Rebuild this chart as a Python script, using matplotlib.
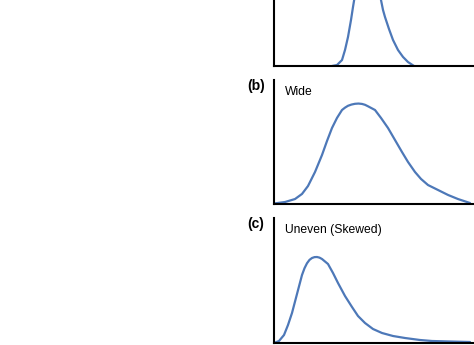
import matplotlib
matplotlib.use("Agg")
import matplotlib.pyplot as plt

plt.rcParams['font.family'] = ['Liberation Sans', 'DejaVu Sans']

# (a) narrow peak - top is cut off by the image border
narrow_x = [29, 31.5, 34, 35.5, 37, 38.5, 39.5, 40.5, 42, 44, 47, 50, 52, 53.5,
            54.5, 55.5, 57.5, 59.5, 62, 64.5, 67, 70]
narrow_y = [0, 0.008, 0.048, 0.129, 0.234, 0.371, 0.476, 0.573, 0.734, 0.855,
            0.903, 0.855, 0.694, 0.532, 0.452, 0.395, 0.298, 0.21, 0.129, 0.073,
            0.032, 0]

# (b) wide
wide_x = [0, 5.5, 10.5, 14, 17, 20.5, 24, 26.5, 29, 31.5, 34, 35.5, 37, 38.75,
          40.5, 42.25, 44, 45.5, 47, 50.5, 53.5, 57, 60.5, 64, 67, 70.5, 73.5,
          77, 82, 87, 92, 98]
wide_y = [0, 0.012, 0.036, 0.077, 0.141, 0.254, 0.391, 0.504, 0.609, 0.69,
          0.754, 0.773, 0.788, 0.798, 0.804, 0.806, 0.803, 0.796, 0.784, 0.754,
          0.69, 0.609, 0.512, 0.415, 0.335, 0.254, 0.198, 0.149, 0.109, 0.069,
          0.036, 0.004]

# (c) uneven / skewed
skew_x = [0, 2.5, 5, 7, 9, 11.5, 14, 15.25, 16.5, 17.75, 19, 20.25, 21.5, 22.75,
          24, 27, 29.5, 32, 35.5, 39, 42, 45.5, 49.5, 54, 59.5, 65.5, 73, 79,
          88, 98]
skew_y = [0, 0.016, 0.064, 0.144, 0.24, 0.392, 0.544, 0.598, 0.638, 0.665,
          0.68, 0.687, 0.688, 0.683, 0.672, 0.632, 0.56, 0.48, 0.376, 0.288,
          0.216, 0.16, 0.112, 0.08, 0.056, 0.04, 0.024, 0.016, 0.012, 0.008]

panel_labels = [None, '(b)', '(c)']
panel_titles = [None, 'Wide', 'Uneven (Skewed)']

line_color = '#4d78b8'

fig = plt.figure(figsize=(4.74, 3.45), dpi=100)

left, width = 274 / 474, 200 / 474
rects = [
    [left, 279 / 345, width, 124 / 345],
    [left, 141.5 / 345, width, 124 / 345],
    [left, 2 / 345, width, 125 / 345],
]
series = [(narrow_x, narrow_y), (wide_x, wide_y), (skew_x, skew_y)]

for rect, (xs, ys), lab, title in zip(rects, series, panel_labels, panel_titles):
    ax = fig.add_axes(rect)
    ax.plot(xs, ys, color=line_color, lw=1.6, solid_capstyle='round',
            solid_joinstyle='round')
    ax.set_xlim(0, 100)
    ax.set_ylim(0, 1)
    ax.set_xticks([])
    ax.set_yticks([])
    for side in ['top', 'right']:
        ax.spines[side].set_visible(False)
    for side in ['left', 'bottom']:
        ax.spines[side].set_linewidth(1.5)
        ax.spines[side].set_color('black')
    ax.patch.set_alpha(0)
    if lab:
        ax.text(-0.09, 0.95, lab, transform=ax.transAxes, fontsize=10,
                fontweight='bold', ha='center', va='center')
        ax.text(0.055, 0.90, title, transform=ax.transAxes, fontsize=8.7,
                ha='left', va='center')

fig.savefig('out.png', dpi=100)
